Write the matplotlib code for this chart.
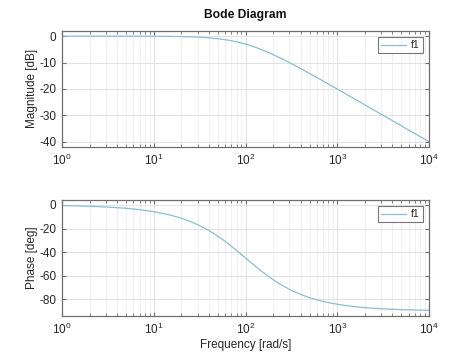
import matplotlib
matplotlib.use("Agg")
import matplotlib.pyplot as plt
from matplotlib.ticker import LogLocator, NullFormatter

plt.rcParams['font.family'] = ['Liberation Sans', 'DejaVu Sans']
plt.rcParams['axes.unicode_minus'] = False
plt.rcParams['mathtext.fontset'] = 'custom'
plt.rcParams['mathtext.rm'] = 'Liberation Sans'

freq = [1, 1.5, 2, 3, 5, 7, 10, 15, 20, 25, 30, 35, 40, 45, 50, 60, 70, 80, 90, 100,
        110, 120, 135, 150, 175, 200, 250, 300, 350, 400, 500, 600, 700, 850, 1000,
        1200, 1500, 2000, 2500, 3000, 4000, 5000, 7000, 10000]
magnitude_db = [0.0, 0.0, 0.0, 0.0, -0.01, -0.02, -0.04, -0.10, -0.17, -0.26, -0.37,
                -0.50, -0.64, -0.80, -0.97, -1.34, -1.73, -2.15, -2.58, -3.01,
                -3.44, -3.87, -4.51, -5.12, -6.09, -6.99, -8.60, -10.0, -11.22,
                -12.30, -14.15, -15.68, -16.99, -18.65, -20.04, -21.61, -23.54,
                -26.03, -27.97, -29.55, -32.04, -33.98, -36.90, -40.00]
phase_deg = [-0.57, -0.86, -1.15, -1.72, -2.86, -4.00, -5.71, -8.53, -11.31, -14.04,
             -16.70, -19.29, -21.80, -24.23, -26.57, -30.96, -34.99, -38.66, -41.99,
             -45.0, -47.73, -50.19, -53.47, -56.31, -60.26, -63.43, -68.20, -71.57,
             -74.05, -75.96, -78.69, -80.54, -81.87, -83.29, -84.29, -85.24, -86.19,
             -87.14, -87.71, -88.09, -88.57, -88.85, -89.18, -89.43]
series_label = "f1"
mag_ticks = [0, -10, -20, -30, -40]
phase_ticks = [0, -20, -40, -60, -80]

line_color = '#8dbdd0'
frame_color = '#6e6e6e'
text_color = '#262626'

fig = plt.figure(figsize=(4.74, 3.55), dpi=100)
ax1 = fig.add_axes([0.131, 0.586, 0.774, 0.327])
ax2 = fig.add_axes([0.131, 0.110, 0.774, 0.327])

def style(ax):
    ax.set_xscale('log')
    ax.set_xlim(1, 1e4)
    ax.xaxis.set_major_locator(LogLocator(base=10, numticks=10))
    ax.xaxis.set_minor_locator(LogLocator(base=10, subs=range(2, 10), numticks=100))
    ax.xaxis.set_minor_formatter(NullFormatter())
    ax.grid(True, which='major', color='#e2e2e2', linewidth=0.7)
    ax.grid(True, which='minor', color='#eeeeee', linewidth=0.6)
    ax.set_axisbelow(True)
    for s in ax.spines.values():
        s.set_color(frame_color)
        s.set_linewidth(0.9)
    ax.tick_params(which='both', direction='in', top=True, right=True,
                   colors=frame_color, labelcolor=text_color, labelsize=8.5)
    ax.tick_params(which='major', length=3, pad=4)
    ax.tick_params(which='minor', length=2)

ax1.plot(freq, magnitude_db, color=line_color, linewidth=0.9, label=series_label)
style(ax1)
ax1.set_ylim(-42, 2)
ax1.set_yticks(mag_ticks)
ax1.set_ylabel('Magnitude [dB]', fontsize=8.5, color=text_color, labelpad=1)
ax1.set_title('Bode Diagram', fontsize=8.7, fontweight='bold', pad=9, color='#111111')

ax2.plot(freq, phase_deg, color=line_color, linewidth=0.9, label=series_label)
style(ax2)
ax2.set_ylim(-94.2, 4.3)
ax2.set_yticks(phase_ticks)
ax2.set_ylabel('Phase [deg]', fontsize=8.5, color=text_color, labelpad=1)
ax2.set_xlabel('Frequency [rad/s]', fontsize=8.5, color=text_color, labelpad=2)

for ax in (ax1, ax2):
    leg = ax.legend(loc='upper right', fontsize=7.5, fancybox=False, handlelength=2.4,
                    borderpad=0.3, handletextpad=0.5, borderaxespad=0.6)
    leg.get_frame().set_edgecolor('#555555')
    leg.get_frame().set_linewidth(0.8)
    for t in leg.get_texts():
        t.set_color(text_color)

fig.savefig('out.png', dpi=100)
